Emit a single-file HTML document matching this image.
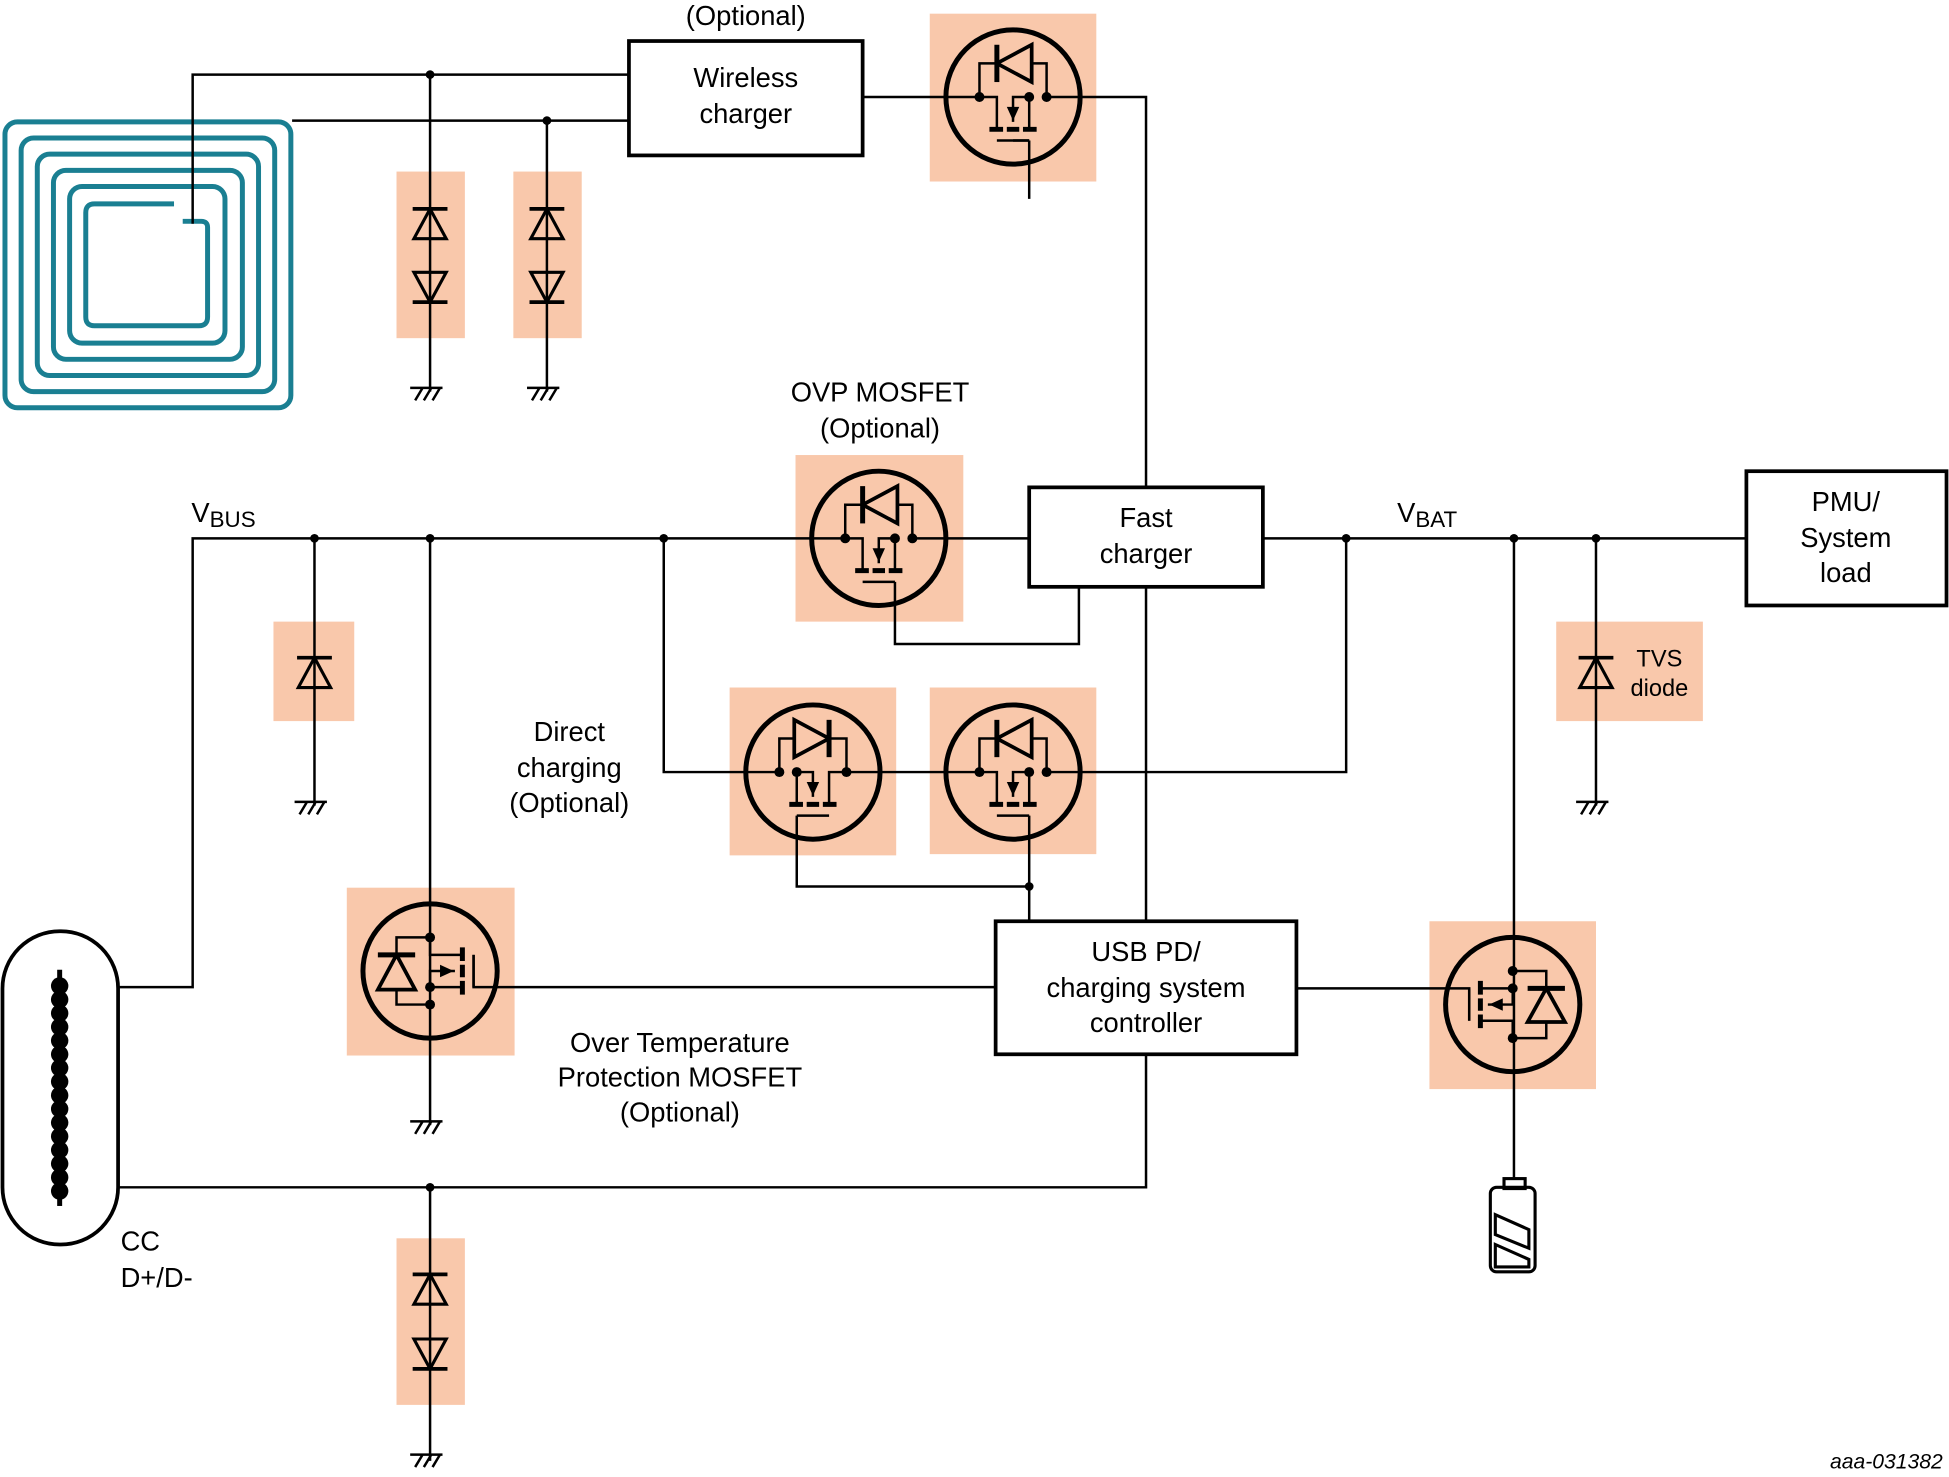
<!DOCTYPE html>
<html><head><meta charset="utf-8"><style>
html,body{margin:0;padding:0;background:#fff}
svg{display:block}
text{font-family:"Liberation Sans",sans-serif;font-size:22px;fill:#000}
</style></head><body>
<svg width="1949" height="1477" viewBox="0 0 1568 1188" preserveAspectRatio="none" xmlns="http://www.w3.org/2000/svg">
<defs>
<g id="core" fill="none" stroke="#000" stroke-width="2">
<circle cx="0" cy="0" r="54" stroke-width="4"/>
<path d="M-27 0H-13V25 M13 0H0V20 M13 0V26"/>
<path d="M-19 26H-8 M-5 26H5 M8 26H19" stroke-width="4"/>
<polygon points="-5,8 5,8 0,19" fill="#000" stroke="none"/>
<path d="M-13 35H13"/>
<circle cx="-27" cy="0" r="4" fill="#000" stroke="none"/>
<circle cx="13" cy="0" r="4" fill="#000" stroke="none"/>
<circle cx="27" cy="0" r="4" fill="#000" stroke="none"/>
</g>
<g id="dio" fill="none" stroke="#000" stroke-width="2">
<path d="M-27 0V-27H-13 M15 -27H27V0"/>
<path d="M-13 -42V-12" stroke-width="4"/>
<polygon points="-13,-27 15,-42 15,-12" stroke-width="3"/>
</g>
<g id="mos"><use href="#core"/><use href="#dio"/></g>
<g id="gnd" stroke="#000" stroke-width="2" fill="none">
<path d="M-14 0H12 M-10 10L-4 0 M-3 10L3 0 M4 10L10 0"/>
</g>
<g id="dup" fill="none" stroke="#000" stroke-width="2">
<path d="M-14 -12H14" stroke-width="3"/>
<polygon points="0,-12 -13,12 13,12" stroke-width="2.5"/>
</g>
<g id="ddn" fill="none" stroke="#000" stroke-width="2">
<path d="M-14 12H14" stroke-width="3"/>
<polygon points="0,12 -13,-12 13,-12" stroke-width="2.5"/>
</g>
</defs>

<g fill="#f9c8ab">
<rect x="748" y="11" width="134" height="135"/>
<rect x="319" y="138" width="55" height="134"/>
<rect x="413" y="138" width="55" height="134"/>
<rect x="640" y="366" width="135" height="134"/>
<rect x="220" y="500" width="65" height="80"/>
<rect x="587" y="553" width="134" height="135"/>
<rect x="748" y="553" width="134" height="134"/>
<rect x="279" y="714" width="135" height="135"/>
<rect x="1150" y="741" width="134" height="135"/>
<rect x="1252" y="500" width="118" height="80"/>
<rect x="319" y="996" width="55" height="134"/>
</g>

<g fill="none" stroke="#1a7f92" stroke-width="4">
<rect x="4" y="98" width="230" height="230" rx="10"/>
<rect x="17" y="111" width="204" height="204" rx="10"/>
<rect x="30" y="124" width="178" height="178" rx="10"/>
<rect x="43" y="137" width="152" height="152" rx="10"/>
<rect x="56" y="150" width="125" height="126" rx="10"/>
<path d="M147 178H162Q167 178 167 183V255Q167 262 160 262H76Q69 262 69 255V171Q69 164 76 164H140"/>
</g>

<g fill="none" stroke="#000" stroke-width="2">
<path d="M155 180V60H506 M346 60V315 M235 97H506 M440 97V315"/>
<path d="M694 78H788 M842 78H922V392 M828 113H815 M828 113V160"/>
<path d="M922 472V741 M922 848V955H95 M346 955V1175"/>
<path d="M95 794H155V433H680 M734 433H828 M253 433V648 M346 433V905"/>
<path d="M534 433V621H627 M681 621H788 M842 621H1083V433"/>
<path d="M720 468V518H868V472"/>
<path d="M641 656V713H828V741 M828 656V713"/>
<path d="M1016 433H1405 M1218 433V947 M1284 433V648"/>
<path d="M400 794H801 M1043 795H1163"/>
</g>

<g fill="#fff" stroke="#000" stroke-width="3">
<rect x="506" y="33" width="188" height="92"/>
<rect x="828" y="392" width="188" height="80"/>
<rect x="1405" y="379" width="161" height="108"/>
<rect x="801" y="741" width="242" height="107"/>
</g>

<g fill="#000">
<circle cx="346" cy="60" r="3.5"/><circle cx="440" cy="97" r="3.5"/>
<circle cx="253" cy="433" r="3.5"/><circle cx="346" cy="433" r="3.5"/><circle cx="534" cy="433" r="3.5"/>
<circle cx="1083" cy="433" r="3.5"/><circle cx="1218" cy="433" r="3.5"/><circle cx="1284" cy="433" r="3.5"/>
<circle cx="828" cy="713" r="3.5"/><circle cx="346" cy="955" r="3.5"/>
</g>

<use href="#mos" transform="translate(815,78)"/>
<use href="#mos" transform="translate(707,433)"/>
<use href="#mos" transform="translate(654,621) scale(-1,1)"/>
<use href="#mos" transform="translate(815,621)"/>
<use href="#mos" transform="translate(346,781) matrix(0,1,1,0,0,0)"/>
<path d="M381 768V794H400" fill="none" stroke="#000" stroke-width="2"/>
<use href="#core" transform="translate(1217,808) matrix(0,-1,-1,0,0,0)"/>
<g fill="none" stroke="#000" stroke-width="2">
<path d="M1182 821V795H1163"/>
<path d="M1217 781H1244V795 M1244 822V835H1217"/>
<path d="M1229 795H1259" stroke-width="4"/>
<polygon points="1244,795 1229,822 1259,822" stroke-width="3"/>
</g>

<use href="#dup" transform="translate(346,180)"/><use href="#ddn" transform="translate(346,231)"/>
<use href="#dup" transform="translate(440,180)"/><use href="#ddn" transform="translate(440,231)"/>
<use href="#dup" transform="translate(253,541)"/>
<use href="#dup" transform="translate(1284,541)"/>
<use href="#dup" transform="translate(346,1037)"/><use href="#ddn" transform="translate(346,1089)"/>
<use href="#gnd" transform="translate(344,312)"/>
<use href="#gnd" transform="translate(438,312)"/>
<use href="#gnd" transform="translate(251,645)"/>
<use href="#gnd" transform="translate(1282,645)"/>
<use href="#gnd" transform="translate(344,902)"/>
<use href="#gnd" transform="translate(344,1170)"/>

<rect x="2" y="749" width="93" height="252" rx="46" fill="none" stroke="#000" stroke-width="3"/>
<g fill="#000">
<circle cx="48" cy="793" r="7"/><circle cx="48" cy="804" r="7"/><circle cx="48" cy="815" r="7"/><circle cx="48" cy="826" r="7"/><circle cx="48" cy="837" r="7"/><circle cx="48" cy="848" r="7"/><circle cx="48" cy="859" r="7"/><circle cx="48" cy="870" r="7"/><circle cx="48" cy="881" r="7"/><circle cx="48" cy="892" r="7"/><circle cx="48" cy="903" r="7"/><circle cx="48" cy="914" r="7"/><circle cx="48" cy="925" r="7"/><circle cx="48" cy="936" r="7"/><circle cx="48" cy="947" r="7"/><circle cx="48" cy="958" r="7"/>
<rect x="46" y="780" width="4" height="190"/>
</g>

<g fill="none" stroke="#000" stroke-width="2.5">
<rect x="1210" y="948" width="17" height="8"/>
<rect x="1199" y="955" width="36" height="68" rx="5"/>
<polygon points="1203,977 1230,989 1230,1004 1203,993"/>
<polygon points="1203,1001 1230,1013 1230,1019 1203,1019"/>
</g>

<g text-anchor="middle">
<text x="600" y="20">(Optional)</text>
<text x="600" y="70">Wireless</text>
<text x="600" y="99">charger</text>
<text x="708" y="323">OVP MOSFET</text>
<text x="708" y="352">(Optional)</text>
<text x="922" y="424">Fast</text>
<text x="922" y="453">charger</text>
<text x="1485" y="411">PMU/</text>
<text x="1485" y="440">System</text>
<text x="1485" y="468">load</text>
<text x="458" y="596">Direct</text>
<text x="458" y="625">charging</text>
<text x="458" y="653">(Optional)</text>
<text x="922" y="773">USB PD/</text>
<text x="922" y="802">charging system</text>
<text x="922" y="830">controller</text>
<text x="547" y="846">Over Temperature</text>
<text x="547" y="874">Protection MOSFET</text>
<text x="547" y="902">(Optional)</text>
<text x="1335" y="536" style="font-size:19px">TVS</text>
<text x="1335" y="560" style="font-size:19px">diode</text>
</g>
<text x="154" y="420">V<tspan dy="4" style="font-size:18px">BUS</tspan></text>
<text x="1124" y="420">V<tspan dy="4" style="font-size:18px">BAT</tspan></text>
<text x="97" y="1006">CC</text>
<text x="97" y="1035">D+/D-</text>
<text x="1563" y="1181" text-anchor="end" style="font-size:17px;font-style:italic">aaa-031382</text>
</svg>
</body></html>
